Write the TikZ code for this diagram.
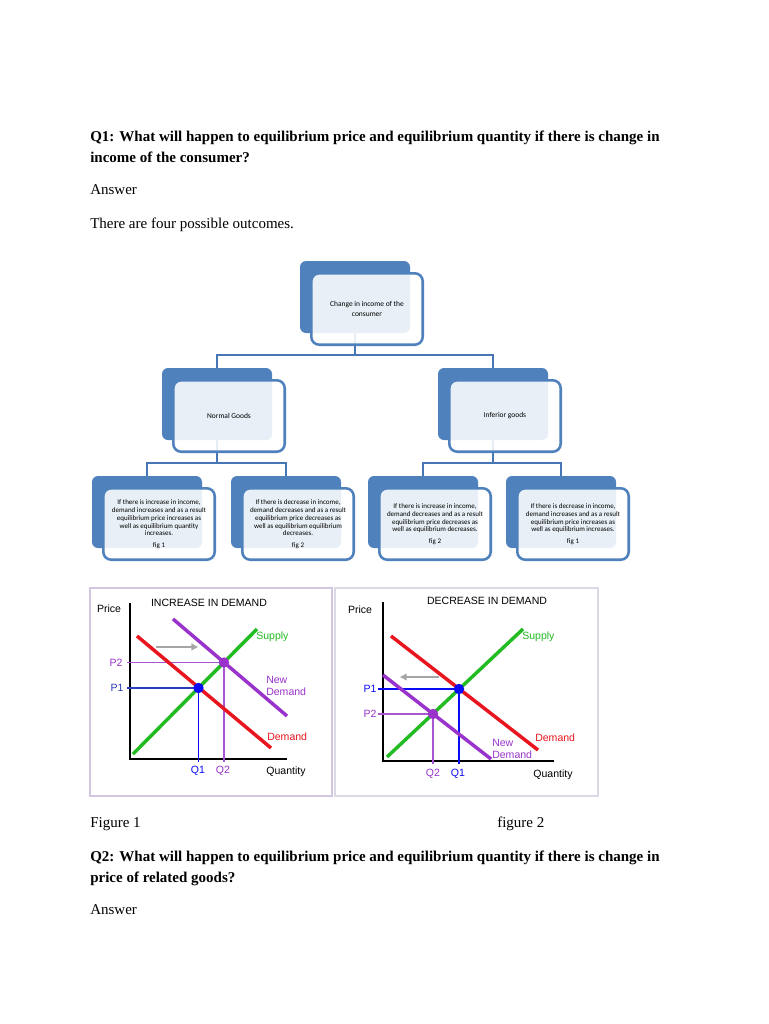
\documentclass[tikz,border=0pt]{standalone}
\usepackage{fontspec}
\setmainfont{Liberation Serif}
\newfontfamily\calib{Carlito}
\newfontfamily\arialf{Liberation Sans}
\usetikzlibrary{calc,arrows.meta}
\pgfdeclarelayer{bg}
\pgfsetlayers{bg,main}
\definecolor{boxblue}{HTML}{4F81BD}
\definecolor{connblue}{HTML}{4677B4}
\definecolor{dred}{HTML}{E8141E}
\definecolor{dgreen}{HTML}{22BB22}
\definecolor{dpurple}{HTML}{9933CC}
\definecolor{lpurple}{HTML}{A955D0}
\definecolor{dblue}{HTML}{0A0AF5}
\definecolor{navy}{HTML}{2A3AB8}
\definecolor{frameA}{HTML}{D2C6E0}
\definecolor{frameB}{HTML}{DCD8E6}
\newcommand\bodyfont{\fontsize{11.25}{13}\selectfont}
\newcommand\midfont{\calib\fontsize{5.6}{7.1}\selectfont}
\newcommand\lowfont{\calib\fontsize{5.25}{5.85}\selectfont}
\newcommand\grfont{\arialf\fontsize{7.9}{9}\selectfont}
\tikzset{
 body/.style={anchor=base west, inner sep=0pt, font=\bodyfont},
 backbox/.style={fill=boxblue, rounded corners=4.5pt, minimum width=82.5pt, minimum height=54pt, inner sep=0pt},
 frontbox/.style={fill=white, fill opacity=0.875, text opacity=1, draw=boxblue, draw opacity=1, line width=1.9pt, rounded corners=6pt, minimum width=83.6pt, minimum height=53.6pt, inner sep=0pt, align=center},
 conn/.style={draw=connblue, line width=1.6pt},
 frameline/.style={line width=1.3pt},
 axis/.style={black, line width=1.1pt},
 curve/.style={line width=2.6pt},
 guide/.style={line width=0.8pt},
 dot/.style={circle, minimum size=7.8pt, inner sep=0pt},
 glab/.style={inner sep=0pt, font=\grfont},
 shiftarrow/.style={draw=gray!70, line width=1.2pt, -{Triangle[length=5pt,width=5pt]}}
}
\newcommand\obox[5]{%
  \node[backbox] (#1) at (#2,#3) {};
  \node[frontbox, font=#5] (#1f) at ($(#1)+(12,12)$) {#4};
}
\begin{document}
\begin{tikzpicture}[x=0.75pt,y=-0.75pt]
\useasboundingbox (0,0) rectangle (768,1024);

% ---------- text ----------
\node[body, font=\bodyfont\bfseries] (q1a) at (90,141) {Q1: What will happen to equilibrium price and equilibrium quantity if there is change in};
\node[body, font=\bodyfont\bfseries] (q1b) at (90,162) {income of the consumer?};
\node[body] (ans1) at (90,194) {Answer};
\node[body] (four) at (90,228) {There are four possible outcomes.};
\node[body] (fig1t) at (90,827) {Figure 1};
\node[body] (fig2t) at (497,827) {figure 2};
\node[body, font=\bodyfont\bfseries] (q2a) at (90,861) {Q2: What will happen to equilibrium price and equilibrium quantity if there is change in};
\node[body, font=\bodyfont\bfseries] (q2b) at (90,882) {price of related goods?};
\node[body] (ans2) at (90,914) {Answer};

% ---------- hierarchy ----------
\obox{tb}{355}{297}{Change in income of the\\consumer}{\midfont}
\obox{m1}{217}{404}{Normal Goods}{\midfont}
\obox{m2}{493}{404}{Inferior goods}{\midfont}
\obox{b1}{147}{512}{If there is increase in income,\\demand increases and as a result\\equilibrium price increases as\\well as equilibrium quantity\\increases.\\[2.5pt]fig 1}{\lowfont}
\obox{b2}{286}{512}{If there is decrease in income,\\demand decreases and as a result\\equilibrium price decreases as\\well as equilibrium equilibrium\\decreases.\\[2.5pt]fig 2}{\lowfont}
\obox{b3}{423}{512}{If there is increase in income,\\demand decreases and as a result\\equilibrium price decreases as\\well as equilibrium decreases.\\[2.5pt]fig 2}{\lowfont}
\obox{b4}{561}{512}{If there is decrease in income,\\demand increases and as a result\\equilibrium price increases as\\well as equilibrium increases.\\[2.5pt]fig 1}{\lowfont}

\begin{pgfonlayer}{bg}
\fill[white] (0,0) rectangle (768,1024);
\draw[conn] (tb.south) -- ++(0,22) coordinate (j1);
\draw[conn] (j1) -| (m1.north);
\draw[conn] (j1) -| (m2.north);
\draw[conn] (m1.south) -- ++(0,23) coordinate (j2);
\draw[conn] (j2) -| (b1.north);
\draw[conn] (j2) -| (b2.north);
\draw[conn] (m2.south) -- ++(0,23) coordinate (j3);
\draw[conn] (j3) -| (b3.north);
\draw[conn] (j3) -| (b4.north);
\end{pgfonlayer}

% ---------- figure 1 ----------
\draw[frameline, draw=frameA] (90,588) rectangle (332,796);
\draw[axis] (130,603) -- (130,759) -- (287,759);
\draw[guide, navy] (127,688) -- (198.5,688);
\draw[guide, dblue] (198.5,688) -- (198.5,762);
\draw[guide, lpurple] (127,662.5) -- (224,662.5) -- (224,762);
\draw[curve, dred] (137,636) -- (271,748);
\draw[curve, dgreen] (133,754) -- (257,629);
\draw[curve, dpurple] (173,619) -- (287,716);
\node[dot, fill=dblue] (p1a) at (198.5,688) {};
\node[dot, fill=dpurple] (p2a) at (224,662.5) {};
\coordinate (arA1) at (156,647);
\coordinate (arA2) at (198,647);
\draw[shiftarrow] (arA1) -- (arA2);
\node[glab] (priceA) at (109,609) {Price};
\node[glab] (titleA) at (209,603) {INCREASE IN DEMAND};
\node[glab, anchor=west, text=dgreen] (supA) at (256,637) {Supply};
\node[glab, anchor=west, align=left, text=dpurple, font=\arialf\fontsize{7.9}{9}\selectfont] (ndA) at (266,686) {New\\Demand};
\node[glab, anchor=west, text=dred] (dA) at (267,737) {Demand};
\node[glab, text=dpurple] (P2A) at (116,663) {P2};
\node[glab, text=navy] (P1A) at (117,688) {P1};
\node[glab, text=dblue] (Q1A) at (198,771) {Q1};
\node[glab, text=dpurple] (Q2A) at (223,771) {Q2};
\node[glab] (quA) at (286,772) {Quantity};

% ---------- figure 2 ----------
\draw[frameline, draw=frameB] (335,588) rectangle (598,796);
\draw[axis] (383,602) -- (383,761) -- (554,761);
\draw[guide, dblue] (378,689) -- (459,689) -- (459,764);
\draw[guide, lpurple] (378,714) -- (433,714) -- (433,764);
\draw[curve, dred] (391,636) -- (538,750);
\draw[curve, dgreen] (387,757) -- (523,629);
\draw[curve, dpurple] (383,675) -- (491,759);
\node[dot, fill=dblue] (p1b) at (459,689) {};
\node[dot, fill=dpurple] (p2b) at (433,714) {};
\coordinate (arB1) at (439,677);
\coordinate (arB2) at (400,677);
\draw[shiftarrow] (arB1) -- (arB2);
\node[glab] (priceB) at (360,610) {Price};
\node[glab] (titleB) at (487,601) {DECREASE IN DEMAND};
\node[glab, anchor=west, text=dgreen] (supB) at (522,637) {Supply};
\node[glab, anchor=west, align=left, text=dpurple, font=\arialf\fontsize{7.9}{9}\selectfont] (ndB) at (492,749) {New\\Demand};
\node[glab, anchor=west, text=dred] (dB) at (535,738) {Demand};
\node[glab, text=dblue] (P1B) at (370,689) {P1};
\node[glab, text=dpurple] (P2B) at (370,714) {P2};
\node[glab, text=dpurple] (Q2B) at (433,774) {Q2};
\node[glab, text=dblue] (Q1B) at (458,774) {Q1};
\node[glab] (quB) at (553,775) {Quantity};
\end{tikzpicture}
\end{document}
